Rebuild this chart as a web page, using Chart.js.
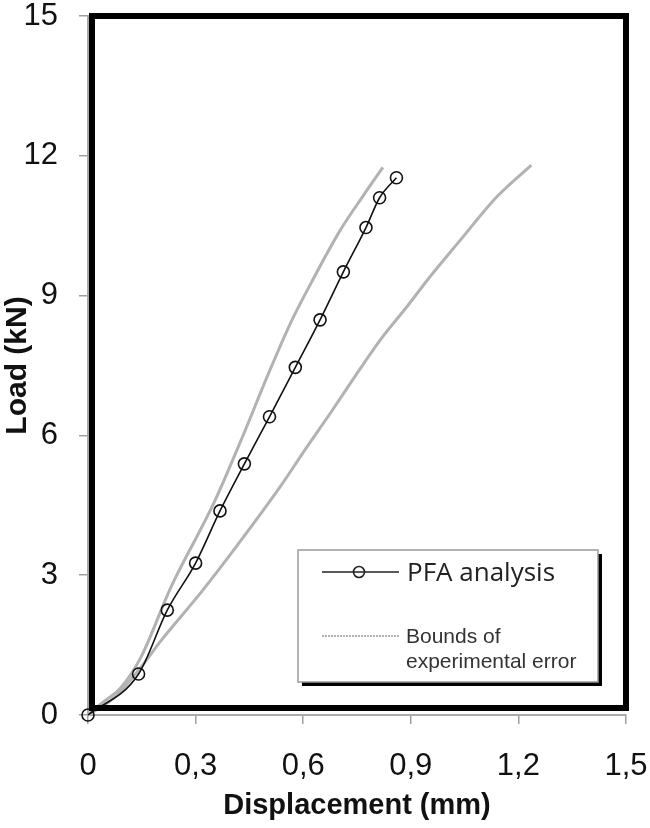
<!DOCTYPE html>
<html>
<head>
<meta charset="utf-8">
<script src="https://cdn.jsdelivr.net/npm/chart.js@4.4.1/dist/chart.umd.min.js"></script>
<style>
  html, body { margin: 0; padding: 0; background: #fff; }
  #wrap { width: 650px; height: 828px; position: relative; }
</style>
</head>
<body>
<div id="wrap"><canvas id="c" width="650" height="828"></canvas></div>
<script>
// ---- data ----
const pfaX = [0, 0.141, 0.221, 0.300, 0.368, 0.436, 0.506, 0.578, 0.647, 0.712, 0.775, 0.813, 0.860];
const pfaY = [0, 0.88, 2.25, 3.26, 4.38, 5.39, 6.40, 7.46, 8.48, 9.51, 10.46, 11.10, 11.53];

const upperX = [0, 0.036, 0.092, 0.147, 0.231, 0.351, 0.434, 0.499, 0.564, 0.624, 0.703, 0.768, 0.822];
const upperY = [0, 0.24, 0.59, 1.23, 2.74, 4.55, 6.03, 7.25, 8.40, 9.30, 10.40, 11.15, 11.75];

const lowerX = [0, 0.073, 0.147, 0.203, 0.314, 0.416, 0.536, 0.611, 0.675, 0.750, 0.815, 0.889, 0.954, 1.038, 1.140, 1.236];
const lowerY = [0, 0.37, 1.02, 1.59, 2.62, 3.64, 4.90, 5.76, 6.47, 7.33, 8.05, 8.76, 9.41, 10.19, 11.12, 11.80];

const xTickLabels = ['0', '0,3', '0,6', '0,9', '1,2', '1,5'];
const yTickLabels = ['0', '3', '6', '9', '12', '15'];

const legendLabels = ['PFA analysis', ['Bounds of', 'experimental error']];
const xTitle = 'Displacement (mm)';
const yTitle = 'Load (kN)';

function pts(xs, ys) { return xs.map((x, i) => ({ x: x, y: ys[i] })); }

const GRAY = '#b2b2b2';
const FONT = '"Liberation Sans", Arial, sans-serif';

const boxPlugin = {
  id: 'boxPlugin',
  afterDatasetsDraw(chart) {
    const { ctx, chartArea: a } = chart;
    ctx.save();
    ctx.strokeStyle = '#000';
    ctx.lineWidth = 6;
    ctx.beginPath();
    ctx.rect(a.left + 4, a.top, a.right - a.left - 4, a.bottom - 7 - a.top);
    ctx.stroke();
    ctx.restore();
  },
  afterDraw(chart) {
    const { ctx } = chart;
    // legend
    const L = 298, T = 550, R = 598, B = 682;
    ctx.save();
    ctx.fillStyle = '#000';
    ctx.fillRect(L + 4, T + 4, R - L, B - T);
    ctx.fillStyle = '#fff';
    ctx.fillRect(L, T, R - L, B - T);
    ctx.strokeStyle = '#9a9a9a';
    ctx.lineWidth = 1.5;
    ctx.strokeRect(L, T, R - L, B - T);
    // PFA sample
    ctx.strokeStyle = '#222';
    ctx.lineWidth = 1.6;
    ctx.beginPath();
    ctx.moveTo(322, 572); ctx.lineTo(399, 572);
    ctx.stroke();
    ctx.beginPath();
    ctx.arc(359, 572, 5.5, 0, Math.PI * 2);
    ctx.stroke();
    ctx.fillStyle = '#222';
    ctx.font = '26px "Open Sans", sans-serif';
    ctx.textBaseline = 'alphabetic';
    ctx.textAlign = 'left';
    ctx.fillText(legendLabels[0], 407, 581);
    // bounds sample
    ctx.strokeStyle = GRAY;
    ctx.lineWidth = 2;
    ctx.setLineDash([2, 1]);
    ctx.beginPath();
    ctx.moveTo(322, 636); ctx.lineTo(399, 636);
    ctx.stroke();
    ctx.setLineDash([]);
    ctx.fillStyle = '#333';
    ctx.font = '21px ' + FONT;
    ctx.fillText(legendLabels[1][0], 406, 643);
    ctx.fillText(legendLabels[1][1], 406, 668);
    ctx.restore();
  }
};

new Chart(document.getElementById('c'), {
  type: 'scatter',
  data: {
    datasets: [
      {
        label: legendLabels[0],
        data: pts(pfaX, pfaY),
        showLine: true,
        borderColor: '#111',
        borderWidth: 1.6,
        pointRadius: 6,
        pointBorderWidth: 1.6,
        pointBackgroundColor: 'rgba(0,0,0,0)',
        pointBorderColor: '#111',
        cubicInterpolationMode: 'monotone',
        clip: false,
        order: 0
      },
      {
        label: 'upper',
        data: pts(upperX, upperY),
        showLine: true,
        borderColor: GRAY,
        borderWidth: 3,
        pointRadius: 0,
        cubicInterpolationMode: 'monotone',
        clip: false,
        order: 1
      },
      {
        label: 'lower',
        data: pts(lowerX, lowerY),
        showLine: true,
        borderColor: GRAY,
        borderWidth: 3,
        pointRadius: 0,
        cubicInterpolationMode: 'monotone',
        clip: false,
        order: 2
      }
    ]
  },
  options: {
    responsive: false,
    animation: false,
    devicePixelRatio: 1,
    layout: { padding: { left: 0, top: 16, right: 24, bottom: 5 } },
    plugins: { legend: { display: false }, tooltip: { enabled: false } },
    scales: {
      x: {
        type: 'linear',
        min: 0, max: 1.5,
        afterFit(s) { s.height = 108; s.paddingLeft = 0; s.paddingRight = 0; },
        ticks: {
          stepSize: 0.3,
          padding: 24,
          maxRotation: 0,
          color: '#111',
          font: { family: FONT, size: 31 },
          callback: (v, i) => xTickLabels[i]
        },
        grid: { drawOnChartArea: false, drawTicks: true, tickLength: 9, color: '#a0a0a0', lineWidth: 1.5 },
        border: { color: '#aaa', width: 2 },
        title: {
          display: true, text: xTitle, color: '#111',
          font: { family: FONT, size: 29, weight: 'bold' },
          padding: { top: 0, bottom: 0 }
        }
      },
      y: {
        type: 'linear',
        min: 0, max: 15,
        afterFit(s) { s.width = 88; s.paddingTop = 0; s.paddingBottom = 0; },
        ticks: {
          stepSize: 3,
          padding: 21,
          color: '#111',
          font: { family: FONT, size: 31 },
          callback: (v, i) => yTickLabels[i]
        },
        grid: { drawOnChartArea: false, drawTicks: true, tickLength: 9, color: '#a0a0a0', lineWidth: 1.5 },
        border: { color: '#aaa', width: 2 },
        title: {
          display: true, text: yTitle, color: '#111',
          font: { family: FONT, size: 30, weight: 'bold' },
          padding: { top: 0, bottom: 0 }
        }
      }
    }
  },
  plugins: [boxPlugin]
});
</script>
</body>
</html>
